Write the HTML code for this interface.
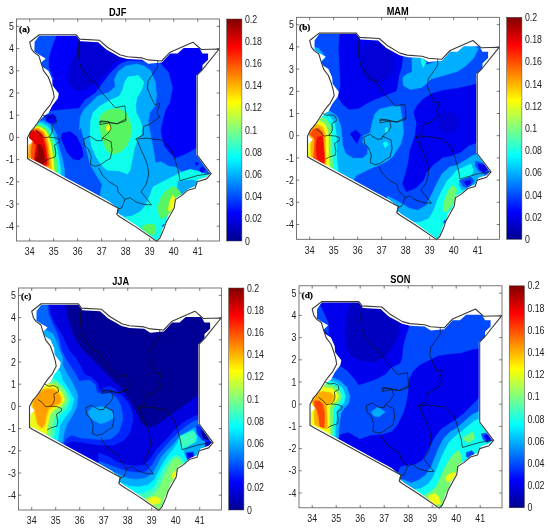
<!DOCTYPE html><html><head><meta charset="utf-8"><title>Seasonal maps</title>
<style>html,body{margin:0;padding:0;background:#fff}svg{display:block;filter:blur(0.42px)}text{font-family:"Liberation Sans",Arial,sans-serif;fill:#222}.t{font-weight:bold;font-size:10.5px;text-anchor:middle;fill:#000}.k{font-size:10px}.g{font-family:"Liberation Serif",serif;font-weight:bold;font-size:9.2px;fill:#000;stroke:#000;stroke-width:0.25px}</style></head><body>
<svg width="550" height="528" viewBox="0 0 550 528">
<defs>
<linearGradient id="jet" x1="0" y1="1" x2="0" y2="0">
<stop offset="0" stop-color="#00008F"/>
<stop offset="0.125" stop-color="#0000FF"/>
<stop offset="0.375" stop-color="#00FFFF"/>
<stop offset="0.625" stop-color="#FFFF00"/>
<stop offset="0.875" stop-color="#FF0000"/>
<stop offset="1" stop-color="#800000"/>
</linearGradient>
<clipPath id="mask"><path d="M18.1 23.1 L22.7 16.8 L59.8 16.8 L63.9 22.2 L81.6 23.3 L89.8 30.6 L103.1 37.9 L111.0 40.0 L125.6 40.8 L131.8 44.8 L145.4 43.5 L153.7 34.5 L161.0 34.5 L167.2 28.9 L182.9 28.9 L186.0 34.5 L191.6 34.5 L191.6 40.8 L186.0 46.0 L186.0 50.6 L179.8 56.4 L179.8 106.0 L179.8 135.8 L193.3 154.5 L190.2 157.7 L181.8 160.8 L178.7 167.0 L171.4 170.2 L165.2 175.4 L160.0 178.5 L157.9 184.8 L155.8 191.0 L151.6 196.2 L149.5 203.5 L146.4 208.7 L143.3 218.1 L140.2 221.6 L137.0 219.1 L119.3 206.0 L104.8 196.8 L101.0 193.5 L101.4 189.3 L92.5 182.3 L85.2 178.3 L76.8 173.6 L64.3 166.8 L51.8 160.0 L41.4 154.3 L24.8 145.1 L15.0 139.9 L11.5 138.9 L12.0 126.1 L13.0 125.6 L16.3 122.3 L12.5 119.0 L13.0 113.3 L19.0 107.3 L24.0 100.6 L28.1 96.2 L31.9 94.3 L35.7 86.8 L41.4 79.2 L42.3 74.4 L36.1 66.5 L35.7 60.2 L31.9 51.7 L26.2 47.9 L24.3 44.1 L29.1 39.4 L22.4 35.6 L17.9 32.8Z"/></clipPath>
<filter id="soft" x="-5%" y="-5%" width="110%" height="110%"><feGaussianBlur stdDeviation="0.45"/></filter>
</defs>
<rect width="550" height="528" fill="#fff"/>
<g transform="translate(16.5 19.0)">
<g clip-path="url(#mask)"><g filter="url(#soft)">
<rect x="-5" y="-5" width="213" height="232" fill="#0000FA"/>
<path d="M63.8 21.4 L52.4 48.9 L51.5 65.0 L60.0 71.6 L69.5 69.7 L80.8 62.1 L90.3 54.6 L97.9 44.1 L105.5 39.4 L111.2 39.4 L90.3 27.1 L84.6 21.4Z" fill="#0000D4" stroke="#0000D4" stroke-width="0.6" stroke-linejoin="round"/>
<path d="M14.3 22.0 L22.7 14.8 L40.4 14.8 L37.2 23.1 L34.1 31.4 L32.0 39.8 L32.0 48.1 L35.2 56.4 L37.2 60.6 L24.8 50.2 L14.3 37.7Z" fill="#0050FF" stroke="#0050FF" stroke-width="0.6" stroke-linejoin="round"/>
<path d="M26.5 93.5 L38.5 91.5 L62.5 89.5 L68.5 81.0 L79.0 74.0 L85.0 66.0 L93.5 54.5 L103.5 45.0 L111.0 42.0 L123.5 42.0 L129.5 43.0 L141.5 42.0 L152.0 53.5 L156.0 69.0 L153.0 84.0 L149.3 90.0 L146.2 100.7 L144.0 111.0 L144.7 116.0 L147.5 127.0 L153.5 134.6 L158.5 139.5 L169.0 135.5 L179.5 129.5 L208.5 121.0 L208.5 231.0 L-6.5 231.0 L-6.5 93.0Z" fill="#0050FF" stroke="#0050FF" stroke-width="0.6" stroke-linejoin="round"/>
<path d="M29.0 97.0 L36.5 95.0 L39.5 98.0 L39.0 103.0 L34.5 104.5 L30.0 102.0Z" fill="#0000FA" stroke="#0000FA" stroke-width="0.6" stroke-linejoin="round"/>
<path d="M45.5 114.5 L53.5 112.5 L60.0 117.5 L65.5 129.0 L66.5 137.0 L62.5 141.0 L56.5 140.0 L50.5 133.0 L47.0 125.0 L44.5 119.0Z" fill="#0000FA" stroke="#0000FA" stroke-width="0.6" stroke-linejoin="round"/>
<path d="M62.9 111.0 L63.8 98.0 L67.5 90.5 L74.2 84.0 L80.8 77.3 L92.2 73.5 L98.8 67.8 L97.9 60.2 L101.7 52.7 L109.3 47.0 L120.5 45.0 L127.5 47.0 L134.1 51.8 L138.8 63.2 L140.0 76.0 L138.7 86.2 L133.3 93.7 L131.8 101.3 L132.6 108.9 L134.1 116.5 L137.1 131.6 L138.7 144.0 L144.2 142.7 L152.7 147.4 L160.3 148.3 L166.0 154.0 L173.5 150.2 L179.3 152.1 L186.8 155.0 L192.5 155.0 L208.5 156.0 L208.5 231.0 L83.5 231.0 L83.5 178.0 L84.5 171.0 L85.8 165.6 L81.0 158.0 L73.7 145.6 L70.6 133.0 L67.5 120.6 L64.3 108.0Z" fill="#00AAFF" stroke="#00AAFF" stroke-width="0.6" stroke-linejoin="round"/>
<path d="M106.1 71.0 L108.3 63.0 L111.5 58.0 L121.8 56.6 L127.4 63.2 L125.0 71.0 L120.5 78.6 L119.0 86.2 L119.7 93.7 L123.5 101.3 L125.8 107.4 L125.0 114.9 L120.5 121.0 L117.4 131.6 L115.9 139.2 L113.7 151.0 L111.0 155.0 L103.1 152.0 L90.2 151.0 L85.6 146.8 L79.6 137.7 L75.0 127.1 L73.5 114.9 L74.3 101.3 L76.5 93.7 L82.6 87.7 L93.2 81.6 L103.0 77.1Z" fill="#0FFFEB" stroke="#0FFFEB" stroke-width="0.6" stroke-linejoin="round"/>
<path d="M87.1 93.5 L93.2 90.3 L103.8 89.8 L109.9 94.5 L112.9 101.3 L115.2 108.9 L113.7 118.0 L109.9 127.0 L103.8 133.1 L96.2 135.4 L90.2 131.6 L86.4 122.5 L84.1 113.4 L82.6 104.3 L84.1 96.8Z" fill="#58F562" stroke="#58F562" stroke-width="0.6" stroke-linejoin="round"/>
<path d="M90.0 107.0 L92.0 105.5 L94.0 107.0 L94.0 111.0 L91.5 112.5 L90.0 111.0Z" fill="#F0FF14" stroke="#F0FF14" stroke-width="0.6" stroke-linejoin="round"/>
<path d="M9.2 106.7 L15.8 105.3 L20.5 101.9 L27.2 101.9 L34.8 106.2 L39.5 114.3 L42.3 127.5 L45.6 138.9 L48.0 151.0 L48.0 157.8 L3.5 157.8 L3.5 106.7Z" fill="#00AAFF" stroke="#00AAFF" stroke-width="0.6" stroke-linejoin="round"/>
<path d="M9.2 108.1 L15.3 106.7 L19.6 103.8 L25.8 104.3 L32.4 108.6 L36.6 116.2 L40.0 127.5 L42.3 138.9 L44.2 151.0 L44.2 157.8 L3.5 157.8 L3.5 108.1Z" fill="#0FFFEB" stroke="#0FFFEB" stroke-width="0.6" stroke-linejoin="round"/>
<path d="M9.2 109.5 L14.9 108.1 L18.7 105.7 L24.3 106.2 L30.5 110.0 L34.6 117.1 L37.4 127.5 L39.5 138.9 L40.9 151.0 L40.9 157.8 L3.5 157.8 L3.5 109.5Z" fill="#58F562" stroke="#58F562" stroke-width="0.6" stroke-linejoin="round"/>
<path d="M9.2 110.9 L13.9 109.5 L17.7 107.6 L23.4 108.1 L28.8 111.4 L32.4 118.0 L34.8 127.5 L36.5 138.9 L37.6 149.8 L37.6 157.8 L3.5 157.8 L3.5 110.9Z" fill="#F0FF14" stroke="#F0FF14" stroke-width="0.6" stroke-linejoin="round"/>
<path d="M9.2 112.4 L13.0 110.9 L17.2 109.0 L22.4 109.5 L27.4 112.8 L30.5 119.0 L32.4 127.5 L34.0 138.9 L34.8 148.3 L34.8 157.8 L3.5 157.8 L3.5 112.4Z" fill="#FFAF00" stroke="#FFAF00" stroke-width="0.6" stroke-linejoin="round"/>
<path d="M12.5 112.4 L16.8 110.5 L22.0 110.9 L26.2 114.3 L28.9 119.9 L30.8 128.5 L32.2 138.9 L32.4 146.5 L28.1 148.3 L21.5 144.6 L14.9 141.2 L14.4 132.2 L15.3 126.6 L16.3 122.3 L12.5 119.0 L9.2 116.2Z" fill="#FF5000" stroke="#FF5000" stroke-width="0.6" stroke-linejoin="round"/>
<path d="M13.0 113.8 L16.3 111.9 L21.0 112.4 L24.8 115.7 L27.2 121.4 L29.1 129.4 L30.5 138.9 L30.5 145.0 L27.2 147.4 L21.5 144.6 L17.7 142.2 L18.7 132.2 L19.6 126.6 L16.3 122.3 L12.5 119.0 L10.1 116.2Z" fill="#E60000" stroke="#E60000" stroke-width="0.6" stroke-linejoin="round"/>
<path d="M22.0 125.1 L24.5 126.1 L26.7 131.3 L27.9 138.9 L28.3 142.7 L25.8 145.5 L22.0 143.8 L18.7 141.5 L20.4 137.0 L21.1 129.4Z" fill="#8C0000" stroke="#8C0000" stroke-width="0.6" stroke-linejoin="round"/>
<path d="M104.7 195.7 L108.5 198.3 L116.1 196.8 L124.4 192.2 L129.7 185.4 L133.5 176.3 L136.5 168.0 L144.9 163.4 L154.0 158.9 L160.0 155.8 L166.1 152.8 L173.7 150.5 L181.2 152.1 L188.5 155.1 L199.4 158.1 L199.4 236.9 L104.7 236.9Z" fill="#0FFFEB" stroke="#0FFFEB" stroke-width="0.6" stroke-linejoin="round"/>
<path d="M161.5 162.4 L175.2 160.8 L180.5 162.4 L184.3 165.7 L173.7 171.0 L169.1 174.8 L164.6 177.1 L160.8 168.7Z" fill="#00AAFF" stroke="#00AAFF" stroke-width="0.6" stroke-linejoin="round"/>
<path d="M142.6 196.0 L141.1 188.4 L144.1 179.3 L149.4 171.8 L157.0 167.2 L162.3 171.0 L164.6 174.8 L160.0 178.6 L158.5 185.4 L154.0 194.5 L147.9 198.3 L144.9 200.5Z" fill="#58F562" stroke="#58F562" stroke-width="0.6" stroke-linejoin="round"/>
<path d="M151.7 191.5 L153.2 182.4 L156.2 176.3 L159.3 180.1 L159.3 185.4 L154.0 192.2Z" fill="#F0FF14" stroke="#F0FF14" stroke-width="0.6" stroke-linejoin="round"/>
<path d="M124.4 208.1 L131.2 205.1 L138.0 205.8 L139.6 211.2 L137.3 216.5 L129.7 213.4Z" fill="#58F562" stroke="#58F562" stroke-width="0.6" stroke-linejoin="round"/>
<path d="M145.6 206.6 L147.6 205.4 L148.8 206.9 L147.1 208.9Z" fill="#0050FF" stroke="#0050FF" stroke-width="0.6" stroke-linejoin="round"/>
<path d="M180.3 142.8 L182.1 144.6 L180.3 146.5 L178.5 144.6Z" fill="#0000FA" stroke="#0000FA" stroke-width="0.6" stroke-linejoin="round"/>
<path d="M185.6 147.7 L188.7 150.7 L185.6 153.7 L182.9 150.7Z" fill="#0000FA" stroke="#0000FA" stroke-width="0.6" stroke-linejoin="round"/>
</g></g>
<path d="M62.5 20.1 L61.9 33.7 L62.9 43.2 L64.8 48.9 L69.5 55.5 L74.2 62.1 L79.9 64.0 L83.7 71.6 L90.3 79.2 L98.8 88.7 L108.3 86.8 L109.3 94.3 L109.3 101.9 L100.7 104.8 L90.3 102.9 L82.7 102.9" fill="none" stroke="#111" stroke-opacity="0.8" stroke-width="0.85" stroke-linejoin="round"/>
<path d="M109.8 99.9 L100.3 104.7 L93.7 103.7 L83.3 105.6 L84.2 101.8 L92.7 102.8 L94.6 109.4 L91.8 114.1 L86.1 118.9 L85.2 121.7 L80.4 121.7 L75.7 118.9 L73.8 117.0 L67.2 119.8 L68.1 126.5 L71.9 130.2 L74.8 137.8 L73.8 145.4 L78.5 147.3 L83.3 146.3 L89.9 141.6 L93.7 139.7 L95.6 131.2 L94.6 122.7 L86.1 118.9" fill="none" stroke="#111" stroke-opacity="0.8" stroke-width="0.85" stroke-linejoin="round"/>
<path d="M82.3 149.2 L84.2 153.0 L86.3 156.6 L92.2 162.5 L100.8 167.6 L101.6 172.8 L108.4 180.4 L106.7 185.5 L105.0 189.0 L101.6 189.8 L100.8 194.9" fill="none" stroke="#111" stroke-opacity="0.8" stroke-width="0.85" stroke-linejoin="round"/>
<path d="M108.4 180.4 L113.6 178.7 L119.5 183.0 L128.0 185.5 L134.9 185.9 L124.6 172.8 L129.8 165.1 L132.3 154.9 L130.6 144.6 L126.3 134.4 L124.6 131.0 L121.0 122.0 L119.3 120.2" fill="none" stroke="#111" stroke-opacity="0.8" stroke-width="0.85" stroke-linejoin="round"/>
<path d="M141.2 41.8 L141.2 48.1 L131.8 61.6 L130.8 68.9 L135.0 79.3 L138.1 85.6 L143.3 84.5 L140.2 93.9 L143.3 98.1 L131.8 106.0" fill="none" stroke="#111" stroke-opacity="0.8" stroke-width="0.85" stroke-linejoin="round"/>
<path d="M132.5 105.6 L126.8 107.5 L126.8 116.0 L119.3 119.8" fill="none" stroke="#111" stroke-opacity="0.8" stroke-width="0.85" stroke-linejoin="round"/>
<path d="M119.3 120.2 L129.8 119.1 L145.4 121.2 L150.5 126.0 L155.3 131.0 L158.7 141.2 L162.1 153.2 L163.5 161.7 L180.8 156.6 L194.3 154.5" fill="none" stroke="#111" stroke-opacity="0.8" stroke-width="0.85" stroke-linejoin="round"/>
<path d="M25.4 95.6 L30.0 98.2 L35.3 97.6 L39.3 99.6 L40.0 103.5 L35.3 106.2 L36.0 111.5 L34.7 115.5 L32.0 118.1 L27.4 118.8 L23.4 114.2 L19.4 111.5" fill="none" stroke="#111" stroke-opacity="0.8" stroke-width="0.85" stroke-linejoin="round"/>
<path d="M32.0 118.1 L39.3 118.8 L43.3 120.8 L42.6 123.4 L38.0 126.1 L39.3 134.1 L38.6 138.0 L32.0 140.0 L28.7 142.0" fill="none" stroke="#111" stroke-opacity="0.8" stroke-width="0.85" stroke-linejoin="round"/>
<path d="M13.2 23.2 L22.6 15.8 L59.8 15.8 L63.1 20.1 L82.8 21.2 L91.2 28.5 L103.4 35.8 L110.9 37.8 L125.5 38.9 L131.8 40.9 L145.2 42.0 L153.6 33.2 L176.4 23.2 L184.8 30.5 L202.6 30.0 L186.0 50.7 L180.7 56.2 L180.7 136.2 L194.6 154.6 L190.1 159.9 L180.7 162.8 L178.6 169.2 L171.4 171.2 L165.1 176.6 L158.9 180.6 L157.7 189.0 L153.6 196.3 L149.5 203.6 L147.4 209.9 L143.3 219.2 L140.2 222.3 L119.3 207.9 L103.2 197.7 L100.3 195.4 L101.8 189.2 L14.2 141.5 L11.0 139.5 L11.0 118.6 L14.2 112.4 L16.8 109.5 L20.4 104.9 L23.5 100.0 L27.1 94.2 L30.0 90.4 L33.8 85.8 L37.7 78.2 L36.7 72.7 L34.8 66.0 L31.9 58.2 L27.1 51.8 L25.2 46.0 L22.3 36.7 L17.8 33.6 L14.9 29.8Z" fill="none" stroke="#3a3a3a" stroke-width="1.1" stroke-linejoin="round"/>
<rect x="0" y="0" width="203" height="222" fill="none" stroke="#555" stroke-width="0.8"/>
<path d="M13.2 222.0 v-2.8 M13.2 0 v2.8 M37.2 222.0 v-2.8 M37.2 0 v2.8 M61.2 222.0 v-2.8 M61.2 0 v2.8 M85.2 222.0 v-2.8 M85.2 0 v2.8 M109.2 222.0 v-2.8 M109.2 0 v2.8 M133.2 222.0 v-2.8 M133.2 0 v2.8 M157.2 222.0 v-2.8 M157.2 0 v2.8 M181.2 222.0 v-2.8 M181.2 0 v2.8 M0 207.2 h2.8 M203.0 207.2 h-2.8 M0 185.0 h2.8 M203.0 185.0 h-2.8 M0 162.8 h2.8 M203.0 162.8 h-2.8 M0 140.6 h2.8 M203.0 140.6 h-2.8 M0 118.4 h2.8 M203.0 118.4 h-2.8 M0 96.2 h2.8 M203.0 96.2 h-2.8 M0 74.0 h2.8 M203.0 74.0 h-2.8 M0 51.8 h2.8 M203.0 51.8 h-2.8 M0 29.6 h2.8 M203.0 29.6 h-2.8 M0 7.4 h2.8 M203.0 7.4 h-2.8" stroke="#444" stroke-width="0.7" fill="none"/>
<text class="k" transform="translate(13.2 236.3) scale(0.88 1)" text-anchor="middle">34</text>
<text class="k" transform="translate(37.2 236.3) scale(0.88 1)" text-anchor="middle">35</text>
<text class="k" transform="translate(61.2 236.3) scale(0.88 1)" text-anchor="middle">36</text>
<text class="k" transform="translate(85.2 236.3) scale(0.88 1)" text-anchor="middle">37</text>
<text class="k" transform="translate(109.2 236.3) scale(0.88 1)" text-anchor="middle">38</text>
<text class="k" transform="translate(133.2 236.3) scale(0.88 1)" text-anchor="middle">39</text>
<text class="k" transform="translate(157.2 236.3) scale(0.88 1)" text-anchor="middle">40</text>
<text class="k" transform="translate(181.2 236.3) scale(0.88 1)" text-anchor="middle">41</text>
<text class="k" transform="translate(-2.6 210.8) scale(0.88 1)" text-anchor="end">-4</text>
<text class="k" transform="translate(-2.6 188.6) scale(0.88 1)" text-anchor="end">-3</text>
<text class="k" transform="translate(-2.6 166.4) scale(0.88 1)" text-anchor="end">-2</text>
<text class="k" transform="translate(-2.6 144.2) scale(0.88 1)" text-anchor="end">-1</text>
<text class="k" transform="translate(-2.6 122.0) scale(0.88 1)" text-anchor="end">0</text>
<text class="k" transform="translate(-2.6 99.8) scale(0.88 1)" text-anchor="end">1</text>
<text class="k" transform="translate(-2.6 77.6) scale(0.88 1)" text-anchor="end">2</text>
<text class="k" transform="translate(-2.6 55.4) scale(0.88 1)" text-anchor="end">3</text>
<text class="k" transform="translate(-2.6 33.2) scale(0.88 1)" text-anchor="end">4</text>
<text class="k" transform="translate(-2.6 11.0) scale(0.88 1)" text-anchor="end">5</text>
<text class="g" x="2.6" y="12.9">(a)</text>
<rect x="210.2" y="0" width="15.2" height="222" fill="url(#jet)" stroke="#444" stroke-width="0.5"/>
<text class="k" transform="translate(228.4 225.6) scale(0.88 1)">0</text>
<text class="k" transform="translate(228.4 203.4) scale(0.88 1)">0.02</text>
<text class="k" transform="translate(228.4 181.2) scale(0.88 1)">0.04</text>
<text class="k" transform="translate(228.4 159.0) scale(0.88 1)">0.06</text>
<text class="k" transform="translate(228.4 136.8) scale(0.88 1)">0.08</text>
<text class="k" transform="translate(228.4 114.6) scale(0.88 1)">0.1</text>
<text class="k" transform="translate(228.4 92.4) scale(0.88 1)">0.12</text>
<text class="k" transform="translate(228.4 70.2) scale(0.88 1)">0.14</text>
<text class="k" transform="translate(228.4 48.0) scale(0.88 1)">0.16</text>
<text class="k" transform="translate(228.4 25.8) scale(0.88 1)">0.18</text>
<text class="k" transform="translate(228.4 3.6) scale(0.88 1)">0.2</text>
</g>
<text class="t" transform="translate(117.6 15.8) scale(0.88 1)">DJF</text>
<g transform="translate(296.5 17.3)">
<g clip-path="url(#mask)"><g filter="url(#soft)">
<rect x="-5" y="-5" width="213" height="232" fill="#004BFF"/>
<path d="M44.2 7.7 L42.3 30.4 L43.3 49.4 L44.2 68.3 L41.8 79.7 L46.1 86.7 L52.7 92.0 L62.2 91.0 L69.8 86.2 L79.3 81.6 L86.8 78.7 L94.4 75.7 L99.5 73.7 L100.5 70.2 L102.3 58.7 L105.1 49.4 L106.1 39.9 L101.5 32.3 L97.5 22.7 L95.5 7.7Z" fill="#0000F0" stroke="#0000F0" stroke-width="0.6" stroke-linejoin="round"/>
<path d="M66.0 30.4 L75.5 24.7 L88.7 26.6 L96.3 36.1 L97.2 49.4 L92.5 60.7 L83.0 66.4 L71.7 64.5 L65.1 55.0 L63.2 41.8Z" fill="#0000D7" stroke="#0000D7" stroke-width="0.6" stroke-linejoin="round"/>
<path d="M187.5 64.5 L174.3 68.3 L161.0 71.1 L147.7 73.0 L136.4 75.9 L126.9 81.6 L120.8 88.2 L117.4 94.7 L120.3 106.1 L118.4 119.4 L113.7 132.6 L111.8 145.9 L108.9 157.2 L106.1 166.7 L109.9 174.3 L119.3 170.5 L126.9 162.9 L129.8 155.4 L136.4 147.8 L145.8 140.2 L155.3 138.3 L164.8 134.5 L172.4 127.9 L187.5 123.2Z" fill="#0000F0" stroke="#0000F0" stroke-width="0.6" stroke-linejoin="round"/>
<path d="M141.1 102.3 L145.8 95.7 L155.3 94.7 L161.9 100.4 L161.9 109.0 L155.3 115.6 L146.8 114.6 L142.1 109.0Z" fill="#0000D7" stroke="#0000D7" stroke-width="0.6" stroke-linejoin="round"/>
<path d="M115.5 40.8 L124.1 39.0 L126.9 48.4 L142.1 43.7 L149.6 37.1 L155.3 34.2 L164.8 29.5 L176.2 27.6 L181.8 31.4 L177.1 40.8 L169.5 48.4 L161.0 54.1 L147.7 57.9 L134.5 61.7 L129.8 66.4 L125.0 70.2 L113.7 72.1 L107.0 68.3 L106.1 60.7 L109.9 56.9 L115.5 55.0Z" fill="#00AFFF" stroke="#00AFFF" stroke-width="0.6" stroke-linejoin="round"/>
<path d="M124.1 39.5 L129.8 44.6 L126.9 50.3 L125.0 45.6Z" fill="#0AFFF0" stroke="#0AFFF0" stroke-width="0.6" stroke-linejoin="round"/>
<path d="M14.9 28.5 L22.4 31.4 L29.1 39.9 L24.3 45.6 L19.6 38.0Z" fill="#00AFFF" stroke="#00AFFF" stroke-width="0.6" stroke-linejoin="round"/>
<path d="M103.5 88.7 L106.1 104.2 L107.0 115.6 L104.2 126.9 L99.5 134.2 L96.3 139.1 L90.6 143.8 L83.0 147.6 L75.5 150.4 L67.9 154.2 L60.3 158.0 L53.5 166.7 L3.5 166.7 L3.5 93.7 L20.5 92.7 L31.9 92.7 L41.0 99.5 L44.4 109.7 L45.5 121.1 L46.1 127.7 L49.0 136.2 L56.5 141.0 L66.0 141.0 L70.7 137.2 L71.7 129.7 L66.0 125.0 L66.9 118.4 L73.6 115.6 L75.5 106.1 L78.3 96.6 L83.0 92.0 L94.4 89.1Z" fill="#00AFFF" stroke="#00AFFF" stroke-width="0.6" stroke-linejoin="round"/>
<path d="M53.7 116.5 L59.4 112.7 L64.1 117.5 L60.3 126.0Z" fill="#0000F0" stroke="#0000F0" stroke-width="0.6" stroke-linejoin="round"/>
<path d="M88.7 110.8 L91.0 110.3 L91.8 114.6 L89.1 115.2Z" fill="#0AFFF0" stroke="#0AFFF0" stroke-width="0.6" stroke-linejoin="round"/>
<path d="M86.5 126.0 L89.7 124.1 L91.8 127.3 L88.7 130.4Z" fill="#0AFFF0" stroke="#0AFFF0" stroke-width="0.6" stroke-linejoin="round"/>
<path d="M3.5 97.2 L17.1 97.2 L25.1 96.1 L33.0 98.4 L38.2 106.3 L39.9 117.7 L39.9 132.5 L40.4 143.8 L41.6 152.7 L41.6 160.9 L3.5 160.9Z" fill="#0AFFF0" stroke="#0AFFF0" stroke-width="0.6" stroke-linejoin="round"/>
<path d="M3.5 100.7 L16.6 100.7 L24.0 99.5 L30.2 102.4 L34.2 108.6 L35.3 118.8 L35.3 132.5 L35.9 143.8 L37.0 152.7 L37.0 160.9 L3.5 160.9Z" fill="#6EFA6E" stroke="#6EFA6E" stroke-width="0.6" stroke-linejoin="round"/>
<path d="M3.5 104.1 L15.4 104.1 L22.8 103.5 L27.9 106.3 L30.8 112.0 L31.9 120.0 L31.9 132.5 L32.5 143.8 L33.0 150.7 L33.0 160.9 L3.5 160.9Z" fill="#F0FF14" stroke="#F0FF14" stroke-width="0.6" stroke-linejoin="round"/>
<path d="M14.9 108.0 L21.7 107.5 L26.2 109.7 L28.5 115.4 L29.1 122.2 L29.1 132.5 L29.4 142.7 L29.6 148.4 L20.5 145.0 L14.9 142.7 L14.3 130.2 L14.9 123.4 L13.2 118.8 L8.0 115.4 L8.0 108.0Z" fill="#FFAF00" stroke="#FFAF00" stroke-width="0.6" stroke-linejoin="round"/>
<path d="M13.7 116.6 L16.6 112.0 L22.2 110.9 L25.9 114.9 L27.0 121.1 L27.4 132.5 L28.2 143.8 L27.9 147.2 L24.0 145.5 L17.1 141.6 L17.7 131.3 L18.3 123.4 L17.1 120.0 L10.3 115.4Z" fill="#FF4B00" stroke="#FF4B00" stroke-width="0.6" stroke-linejoin="round"/>
<path d="M20.5 120.0 L25.7 118.8 L26.8 126.8 L27.7 135.9 L27.7 145.0 L24.0 145.0 L20.5 141.0 L19.6 131.3Z" fill="#F00F00" stroke="#F00F00" stroke-width="0.6" stroke-linejoin="round"/>
<path d="M90.9 178.8 L98.5 182.6 L106.1 186.8 L112.7 191.1 L121.2 193.0 L129.8 188.3 L134.5 178.8 L139.2 168.4 L145.8 156.1 L153.4 149.5 L161.0 147.6 L170.5 141.9 L176.2 138.1 L187.5 135.3 L187.5 241.3 L90.9 241.3Z" fill="#00AFFF" stroke="#00AFFF" stroke-width="0.6" stroke-linejoin="round"/>
<path d="M106.1 200.6 L115.5 205.7 L124.1 204.8 L132.6 201.2 L137.3 193.0 L141.1 182.6 L145.8 172.2 L150.6 163.7 L155.3 158.9 L160.1 153.3 L174.3 146.6 L177.1 153.3 L174.3 158.9 L162.9 162.7 L161.9 167.5 L164.8 173.2 L187.5 173.2 L187.5 241.3 L98.5 241.3Z" fill="#0AFFF0" stroke="#0AFFF0" stroke-width="0.6" stroke-linejoin="round"/>
<path d="M146.8 190.2 L148.7 180.7 L152.5 172.2 L156.3 167.5 L160.1 172.2 L159.1 180.7 L155.3 188.3 L150.6 194.0 L147.4 194.0Z" fill="#6EFA6E" stroke="#6EFA6E" stroke-width="0.6" stroke-linejoin="round"/>
<path d="M162.9 163.3 L174.3 159.5 L177.7 163.7 L172.4 170.9 L166.7 169.0Z" fill="#004BFF" stroke="#004BFF" stroke-width="0.6" stroke-linejoin="round"/>
<path d="M167.6 164.6 L173.3 162.7 L174.3 165.6 L170.5 168.4Z" fill="#0000F0" stroke="#0000F0" stroke-width="0.6" stroke-linejoin="round"/>
<path d="M179.0 143.8 L187.5 146.3 L193.2 152.3 L187.5 156.5 L181.8 153.3 L179.0 148.5Z" fill="#004BFF" stroke="#004BFF" stroke-width="0.6" stroke-linejoin="round"/>
<path d="M181.8 146.6 L187.5 147.6 L191.3 151.9 L187.1 155.2 L182.8 151.9Z" fill="#0000F0" stroke="#0000F0" stroke-width="0.6" stroke-linejoin="round"/>
<path d="M146.8 204.4 L148.7 202.5 L150.0 205.0 L148.1 207.2Z" fill="#004BFF" stroke="#004BFF" stroke-width="0.6" stroke-linejoin="round"/>
</g></g>
<path d="M62.5 20.1 L61.9 33.7 L62.9 43.2 L64.8 48.9 L69.5 55.5 L74.2 62.1 L79.9 64.0 L83.7 71.6 L90.3 79.2 L98.8 88.7 L108.3 86.8 L109.3 94.3 L109.3 101.9 L100.7 104.8 L90.3 102.9 L82.7 102.9" fill="none" stroke="#111" stroke-opacity="0.8" stroke-width="0.85" stroke-linejoin="round"/>
<path d="M109.8 99.9 L100.3 104.7 L93.7 103.7 L83.3 105.6 L84.2 101.8 L92.7 102.8 L94.6 109.4 L91.8 114.1 L86.1 118.9 L85.2 121.7 L80.4 121.7 L75.7 118.9 L73.8 117.0 L67.2 119.8 L68.1 126.5 L71.9 130.2 L74.8 137.8 L73.8 145.4 L78.5 147.3 L83.3 146.3 L89.9 141.6 L93.7 139.7 L95.6 131.2 L94.6 122.7 L86.1 118.9" fill="none" stroke="#111" stroke-opacity="0.8" stroke-width="0.85" stroke-linejoin="round"/>
<path d="M82.3 149.2 L84.2 153.0 L86.3 156.6 L92.2 162.5 L100.8 167.6 L101.6 172.8 L108.4 180.4 L106.7 185.5 L105.0 189.0 L101.6 189.8 L100.8 194.9" fill="none" stroke="#111" stroke-opacity="0.8" stroke-width="0.85" stroke-linejoin="round"/>
<path d="M108.4 180.4 L113.6 178.7 L119.5 183.0 L128.0 185.5 L134.9 185.9 L124.6 172.8 L129.8 165.1 L132.3 154.9 L130.6 144.6 L126.3 134.4 L124.6 131.0 L121.0 122.0 L119.3 120.2" fill="none" stroke="#111" stroke-opacity="0.8" stroke-width="0.85" stroke-linejoin="round"/>
<path d="M141.2 41.8 L141.2 48.1 L131.8 61.6 L130.8 68.9 L135.0 79.3 L138.1 85.6 L143.3 84.5 L140.2 93.9 L143.3 98.1 L131.8 106.0" fill="none" stroke="#111" stroke-opacity="0.8" stroke-width="0.85" stroke-linejoin="round"/>
<path d="M132.5 105.6 L126.8 107.5 L126.8 116.0 L119.3 119.8" fill="none" stroke="#111" stroke-opacity="0.8" stroke-width="0.85" stroke-linejoin="round"/>
<path d="M119.3 120.2 L129.8 119.1 L145.4 121.2 L150.5 126.0 L155.3 131.0 L158.7 141.2 L162.1 153.2 L163.5 161.7 L180.8 156.6 L194.3 154.5" fill="none" stroke="#111" stroke-opacity="0.8" stroke-width="0.85" stroke-linejoin="round"/>
<path d="M25.4 95.6 L30.0 98.2 L35.3 97.6 L39.3 99.6 L40.0 103.5 L35.3 106.2 L36.0 111.5 L34.7 115.5 L32.0 118.1 L27.4 118.8 L23.4 114.2 L19.4 111.5" fill="none" stroke="#111" stroke-opacity="0.8" stroke-width="0.85" stroke-linejoin="round"/>
<path d="M32.0 118.1 L39.3 118.8 L43.3 120.8 L42.6 123.4 L38.0 126.1 L39.3 134.1 L38.6 138.0 L32.0 140.0 L28.7 142.0" fill="none" stroke="#111" stroke-opacity="0.8" stroke-width="0.85" stroke-linejoin="round"/>
<path d="M13.2 23.2 L22.6 15.8 L59.8 15.8 L63.1 20.1 L82.8 21.2 L91.2 28.5 L103.4 35.8 L110.9 37.8 L125.5 38.9 L131.8 40.9 L145.2 42.0 L153.6 33.2 L176.4 23.2 L184.8 30.5 L202.6 30.0 L186.0 50.7 L180.7 56.2 L180.7 136.2 L194.6 154.6 L190.1 159.9 L180.7 162.8 L178.6 169.2 L171.4 171.2 L165.1 176.6 L158.9 180.6 L157.7 189.0 L153.6 196.3 L149.5 203.6 L147.4 209.9 L143.3 219.2 L140.2 222.3 L119.3 207.9 L103.2 197.7 L100.3 195.4 L101.8 189.2 L14.2 141.5 L11.0 139.5 L11.0 118.6 L14.2 112.4 L16.8 109.5 L20.4 104.9 L23.5 100.0 L27.1 94.2 L30.0 90.4 L33.8 85.8 L37.7 78.2 L36.7 72.7 L34.8 66.0 L31.9 58.2 L27.1 51.8 L25.2 46.0 L22.3 36.7 L17.8 33.6 L14.9 29.8Z" fill="none" stroke="#3a3a3a" stroke-width="1.1" stroke-linejoin="round"/>
<rect x="0" y="0" width="203" height="222" fill="none" stroke="#555" stroke-width="0.8"/>
<path d="M13.2 222.0 v-2.8 M13.2 0 v2.8 M37.2 222.0 v-2.8 M37.2 0 v2.8 M61.2 222.0 v-2.8 M61.2 0 v2.8 M85.2 222.0 v-2.8 M85.2 0 v2.8 M109.2 222.0 v-2.8 M109.2 0 v2.8 M133.2 222.0 v-2.8 M133.2 0 v2.8 M157.2 222.0 v-2.8 M157.2 0 v2.8 M181.2 222.0 v-2.8 M181.2 0 v2.8 M0 207.2 h2.8 M203.0 207.2 h-2.8 M0 185.0 h2.8 M203.0 185.0 h-2.8 M0 162.8 h2.8 M203.0 162.8 h-2.8 M0 140.6 h2.8 M203.0 140.6 h-2.8 M0 118.4 h2.8 M203.0 118.4 h-2.8 M0 96.2 h2.8 M203.0 96.2 h-2.8 M0 74.0 h2.8 M203.0 74.0 h-2.8 M0 51.8 h2.8 M203.0 51.8 h-2.8 M0 29.6 h2.8 M203.0 29.6 h-2.8 M0 7.4 h2.8 M203.0 7.4 h-2.8" stroke="#444" stroke-width="0.7" fill="none"/>
<text class="k" transform="translate(13.2 236.3) scale(0.88 1)" text-anchor="middle">34</text>
<text class="k" transform="translate(37.2 236.3) scale(0.88 1)" text-anchor="middle">35</text>
<text class="k" transform="translate(61.2 236.3) scale(0.88 1)" text-anchor="middle">36</text>
<text class="k" transform="translate(85.2 236.3) scale(0.88 1)" text-anchor="middle">37</text>
<text class="k" transform="translate(109.2 236.3) scale(0.88 1)" text-anchor="middle">38</text>
<text class="k" transform="translate(133.2 236.3) scale(0.88 1)" text-anchor="middle">39</text>
<text class="k" transform="translate(157.2 236.3) scale(0.88 1)" text-anchor="middle">40</text>
<text class="k" transform="translate(181.2 236.3) scale(0.88 1)" text-anchor="middle">41</text>
<text class="k" transform="translate(-2.6 210.8) scale(0.88 1)" text-anchor="end">-4</text>
<text class="k" transform="translate(-2.6 188.6) scale(0.88 1)" text-anchor="end">-3</text>
<text class="k" transform="translate(-2.6 166.4) scale(0.88 1)" text-anchor="end">-2</text>
<text class="k" transform="translate(-2.6 144.2) scale(0.88 1)" text-anchor="end">-1</text>
<text class="k" transform="translate(-2.6 122.0) scale(0.88 1)" text-anchor="end">0</text>
<text class="k" transform="translate(-2.6 99.8) scale(0.88 1)" text-anchor="end">1</text>
<text class="k" transform="translate(-2.6 77.6) scale(0.88 1)" text-anchor="end">2</text>
<text class="k" transform="translate(-2.6 55.4) scale(0.88 1)" text-anchor="end">3</text>
<text class="k" transform="translate(-2.6 33.2) scale(0.88 1)" text-anchor="end">4</text>
<text class="k" transform="translate(-2.6 11.0) scale(0.88 1)" text-anchor="end">5</text>
<text class="g" x="2.6" y="12.7">(b)</text>
<rect x="210.2" y="0" width="15.2" height="222" fill="url(#jet)" stroke="#444" stroke-width="0.5"/>
<text class="k" transform="translate(228.4 225.6) scale(0.88 1)">0</text>
<text class="k" transform="translate(228.4 203.4) scale(0.88 1)">0.02</text>
<text class="k" transform="translate(228.4 181.2) scale(0.88 1)">0.04</text>
<text class="k" transform="translate(228.4 159.0) scale(0.88 1)">0.06</text>
<text class="k" transform="translate(228.4 136.8) scale(0.88 1)">0.08</text>
<text class="k" transform="translate(228.4 114.6) scale(0.88 1)">0.1</text>
<text class="k" transform="translate(228.4 92.4) scale(0.88 1)">0.12</text>
<text class="k" transform="translate(228.4 70.2) scale(0.88 1)">0.14</text>
<text class="k" transform="translate(228.4 48.0) scale(0.88 1)">0.16</text>
<text class="k" transform="translate(228.4 25.8) scale(0.88 1)">0.18</text>
<text class="k" transform="translate(228.4 3.6) scale(0.88 1)">0.2</text>
</g>
<text class="t" transform="translate(397.7 14.5) scale(0.88 1)">MAM</text>
<g transform="translate(18.5 288.0)">
<g clip-path="url(#mask)"><g filter="url(#soft)">
<rect x="-5" y="-5" width="213" height="232" fill="#0000E1"/>
<path d="M47.9 2.0 L47.9 16.5 L48.8 26.0 L51.5 36.0 L54.5 45.0 L59.0 54.0 L64.5 62.0 L72.5 69.6 L80.5 78.0 L88.5 86.0 L95.5 93.0 L100.5 97.0 L105.4 103.5 L111.5 112.6 L118.0 124.0 L123.7 135.7 L132.2 139.5 L140.7 134.8 L150.2 128.1 L159.7 121.5 L171.0 113.0 L180.5 105.4 L211.5 97.0 L211.5 2.0Z" fill="#000096" stroke="#000096" stroke-width="0.6" stroke-linejoin="round"/>
<path d="M30.5 2.0 L30.5 16.0 L31.8 26.0 L36.5 36.0 L42.2 45.0 L46.5 54.0 L50.3 62.0 L57.9 71.0 L62.4 78.7 L65.5 86.2 L73.0 89.3 L79.1 95.3 L80.6 103.0 L85.1 100.0 L91.2 98.4 L97.3 101.4 L101.5 106.0 L103.9 108.0 L110.0 115.6 L113.8 124.7 L114.5 132.0 L111.5 144.0 L105.5 152.0 L95.5 157.0 L81.5 157.0 L66.5 155.0 L53.5 153.0 L45.5 157.0 L-8.5 152.0 L-8.5 2.0Z" fill="#0028FF" stroke="#0028FF" stroke-width="0.6" stroke-linejoin="round"/>
<path d="M28.5 2.0 L28.5 16.0 L30.0 26.0 L34.0 36.0 L38.5 45.0 L41.0 54.0 L42.7 62.0 L47.3 71.0 L53.3 80.2 L57.9 87.8 L60.9 93.8 L65.5 92.3 L71.5 92.3 L76.8 96.8 L78.3 104.4 L79.7 105.0 L84.2 105.5 L91.8 105.0 L97.9 109.6 L102.1 117.0 L104.0 127.0 L104.0 132.8 L100.2 144.2 L92.6 150.8 L83.2 151.8 L71.8 150.8 L62.3 149.9 L52.9 147.0 L47.2 150.8 L43.5 158.0 L-8.5 152.0 L-8.5 2.0Z" fill="#0066FF" stroke="#0066FF" stroke-width="0.6" stroke-linejoin="round"/>
<path d="M-8.5 37.0 L25.5 41.0 L29.5 43.0 L34.5 46.0 L38.5 55.0 L41.0 62.0 L44.2 69.6 L44.2 77.2 L47.5 84.0 L52.5 92.3 L56.5 100.0 L59.4 107.5 L58.3 118.7 L53.6 128.1 L48.8 135.7 L46.0 143.3 L44.1 154.0 L-8.5 154.0Z" fill="#00AFFF" stroke="#00AFFF" stroke-width="0.6" stroke-linejoin="round"/>
<path d="M69.9 123.4 L74.6 119.6 L86.0 118.6 L93.6 123.4 L95.5 129.0 L90.7 132.8 L82.2 135.7 L74.6 131.9 L70.9 128.1Z" fill="#00AFFF" stroke="#00AFFF" stroke-width="0.6" stroke-linejoin="round"/>
<path d="M-8.5 72.0 L33.5 75.0 L37.0 78.0 L41.5 84.0 L44.2 92.3 L49.5 100.0 L53.3 107.5 L55.5 111.0 L52.6 121.5 L46.0 130.0 L41.3 137.6 L39.4 152.0 L-8.5 152.0Z" fill="#00F5FF" stroke="#00F5FF" stroke-width="0.6" stroke-linejoin="round"/>
<path d="M-8.5 86.0 L29.9 89.0 L37.0 91.5 L44.5 98.0 L50.3 107.5 L51.7 112.0 L47.9 121.5 L41.3 127.2 L37.5 135.7 L35.6 150.0 L-8.5 150.0Z" fill="#3CFFBE" stroke="#3CFFBE" stroke-width="0.6" stroke-linejoin="round"/>
<path d="M-8.5 95.0 L22.3 95.0 L37.5 94.0 L47.0 103.5 L48.8 113.0 L44.1 120.6 L38.4 124.3 L34.6 131.9 L32.8 139.5 L31.8 148.0 L-8.5 148.0Z" fill="#7DFF73" stroke="#7DFF73" stroke-width="0.6" stroke-linejoin="round"/>
<path d="M-8.5 103.5 L17.6 103.5 L25.2 95.9 L36.5 96.9 L44.1 105.4 L46.0 112.0 L42.2 117.7 L35.6 121.5 L31.8 126.2 L29.9 133.8 L28.0 146.0 L-8.5 146.0Z" fill="#EBFA19" stroke="#EBFA19" stroke-width="0.6" stroke-linejoin="round"/>
<path d="M19.5 106.5 L26.1 101.8 L34.6 101.6 L39.0 104.5 L42.2 110.1 L41.3 114.9 L34.6 117.7 L29.9 120.6 L27.1 128.1 L26.1 135.7 L23.3 139.5 L19.5 135.7 L17.6 126.2 L14.8 117.7 L15.7 111.1Z" fill="#FFCD00" stroke="#FFCD00" stroke-width="3" stroke-linejoin="round"/>
<path d="M19.5 106.5 L26.1 101.8 L34.6 101.6 L39.0 104.5 L42.2 110.1 L41.3 114.9 L34.6 117.7 L29.9 120.6 L27.1 128.1 L26.1 135.7 L23.3 139.5 L19.5 135.7 L17.6 126.2 L14.8 117.7 L15.7 111.1Z" fill="#FFA000" stroke="#FFA000" stroke-width="0.6" stroke-linejoin="round"/>
<path d="M80.1 164.9 L91.5 169.6 L99.1 174.3 L108.5 177.2 L118.0 178.1 L125.6 177.2 L132.2 170.6 L137.0 163.0 L143.6 155.4 L150.2 148.8 L155.9 142.2 L163.5 135.5 L171.0 130.8 L186.2 124.2 L186.2 240.6 L80.1 240.6Z" fill="#0028FF" stroke="#0028FF" stroke-width="0.6" stroke-linejoin="round"/>
<path d="M80.1 173.4 L91.5 177.2 L101.0 181.0 L110.4 183.8 L119.9 184.8 L127.5 183.8 L134.1 176.2 L138.8 167.7 L145.5 160.1 L152.1 152.6 L158.7 145.9 L166.3 139.3 L174.8 133.6 L186.2 129.8 L186.2 240.6 L80.1 240.6Z" fill="#0066FF" stroke="#0066FF" stroke-width="0.6" stroke-linejoin="round"/>
<path d="M87.7 181.9 L99.1 185.7 L108.5 190.4 L118.0 191.4 L126.5 190.4 L134.1 185.7 L138.8 177.2 L142.6 169.6 L148.3 163.0 L154.0 157.3 L159.7 150.7 L167.3 145.0 L174.8 140.3 L186.2 138.4 L186.2 240.6 L87.7 240.6Z" fill="#00AFFF" stroke="#00AFFF" stroke-width="0.6" stroke-linejoin="round"/>
<path d="M91.5 191.4 L102.9 195.2 L110.4 198.0 L119.9 199.0 L129.4 197.1 L136.0 191.4 L140.7 181.9 L145.5 173.4 L150.2 166.8 L154.9 161.1 L158.7 155.4 L161.6 147.8 L174.8 142.2 L178.6 147.8 L177.7 153.5 L171.0 157.3 L164.4 162.0 L166.3 167.7 L171.0 176.2 L171.0 240.6 L91.5 240.6Z" fill="#00F5FF" stroke="#00F5FF" stroke-width="0.6" stroke-linejoin="round"/>
<path d="M110.4 206.5 L118.0 206.5 L125.6 204.7 L134.1 200.9 L138.8 193.3 L142.6 184.8 L147.4 176.2 L153.1 169.6 L157.8 166.8 L162.5 169.6 L167.3 176.2 L167.3 240.6 L110.4 240.6Z" fill="#3CFFBE" stroke="#3CFFBE" stroke-width="0.6" stroke-linejoin="round"/>
<path d="M161.6 148.8 L174.8 143.1 L177.7 148.8 L175.8 154.5 L163.5 160.1Z" fill="#3CFFBE" stroke="#3CFFBE" stroke-width="0.6" stroke-linejoin="round"/>
<path d="M119.9 214.1 L126.5 210.3 L135.1 206.5 L140.7 199.9 L144.5 191.4 L148.3 182.9 L154.0 172.5 L158.7 169.6 L162.5 174.3 L163.5 240.6 L119.9 240.6Z" fill="#7DFF73" stroke="#7DFF73" stroke-width="0.6" stroke-linejoin="round"/>
<path d="M129.4 211.3 L136.0 208.4 L141.7 210.3 L141.7 215.1 L134.1 216.4 L130.3 214.5Z" fill="#EBFA19" stroke="#EBFA19" stroke-width="0.6" stroke-linejoin="round"/>
<path d="M153.1 188.6 L154.9 183.8 L157.8 183.4 L157.4 187.6 L154.9 191.4Z" fill="#EBFA19" stroke="#EBFA19" stroke-width="0.6" stroke-linejoin="round"/>
<path d="M167.3 164.9 L174.8 163.9 L175.8 169.6 L169.2 172.1Z" fill="#0028FF" stroke="#0028FF" stroke-width="0.6" stroke-linejoin="round"/>
<path d="M169.2 165.8 L173.9 165.3 L174.3 169.0 L170.1 170.6Z" fill="#0000E1" stroke="#0000E1" stroke-width="0.6" stroke-linejoin="round"/>
<path d="M177.7 137.4 L181.5 138.4 L191.5 145.9 L191.5 153.5 L184.3 152.6 L178.6 145.9Z" fill="#0028FF" stroke="#0028FF" stroke-width="0.6" stroke-linejoin="round"/>
<path d="M182.4 142.2 L190.0 146.9 L190.0 151.6 L185.2 150.7Z" fill="#000096" stroke="#000096" stroke-width="0.6" stroke-linejoin="round"/>
</g></g>
<path d="M62.5 20.1 L61.9 33.7 L62.9 43.2 L64.8 48.9 L69.5 55.5 L74.2 62.1 L79.9 64.0 L83.7 71.6 L90.3 79.2 L98.8 88.7 L108.3 86.8 L109.3 94.3 L109.3 101.9 L100.7 104.8 L90.3 102.9 L82.7 102.9" fill="none" stroke="#111" stroke-opacity="0.8" stroke-width="0.85" stroke-linejoin="round"/>
<path d="M109.8 99.9 L100.3 104.7 L93.7 103.7 L83.3 105.6 L84.2 101.8 L92.7 102.8 L94.6 109.4 L91.8 114.1 L86.1 118.9 L85.2 121.7 L80.4 121.7 L75.7 118.9 L73.8 117.0 L67.2 119.8 L68.1 126.5 L71.9 130.2 L74.8 137.8 L73.8 145.4 L78.5 147.3 L83.3 146.3 L89.9 141.6 L93.7 139.7 L95.6 131.2 L94.6 122.7 L86.1 118.9" fill="none" stroke="#111" stroke-opacity="0.8" stroke-width="0.85" stroke-linejoin="round"/>
<path d="M82.3 149.2 L84.2 153.0 L86.3 156.6 L92.2 162.5 L100.8 167.6 L101.6 172.8 L108.4 180.4 L106.7 185.5 L105.0 189.0 L101.6 189.8 L100.8 194.9" fill="none" stroke="#111" stroke-opacity="0.8" stroke-width="0.85" stroke-linejoin="round"/>
<path d="M108.4 180.4 L113.6 178.7 L119.5 183.0 L128.0 185.5 L134.9 185.9 L124.6 172.8 L129.8 165.1 L132.3 154.9 L130.6 144.6 L126.3 134.4 L124.6 131.0 L121.0 122.0 L119.3 120.2" fill="none" stroke="#111" stroke-opacity="0.8" stroke-width="0.85" stroke-linejoin="round"/>
<path d="M141.2 41.8 L141.2 48.1 L131.8 61.6 L130.8 68.9 L135.0 79.3 L138.1 85.6 L143.3 84.5 L140.2 93.9 L143.3 98.1 L131.8 106.0" fill="none" stroke="#111" stroke-opacity="0.8" stroke-width="0.85" stroke-linejoin="round"/>
<path d="M132.5 105.6 L126.8 107.5 L126.8 116.0 L119.3 119.8" fill="none" stroke="#111" stroke-opacity="0.8" stroke-width="0.85" stroke-linejoin="round"/>
<path d="M119.3 120.2 L129.8 119.1 L145.4 121.2 L150.5 126.0 L155.3 131.0 L158.7 141.2 L162.1 153.2 L163.5 161.7 L180.8 156.6 L194.3 154.5" fill="none" stroke="#111" stroke-opacity="0.8" stroke-width="0.85" stroke-linejoin="round"/>
<path d="M25.4 95.6 L30.0 98.2 L35.3 97.6 L39.3 99.6 L40.0 103.5 L35.3 106.2 L36.0 111.5 L34.7 115.5 L32.0 118.1 L27.4 118.8 L23.4 114.2 L19.4 111.5" fill="none" stroke="#111" stroke-opacity="0.8" stroke-width="0.85" stroke-linejoin="round"/>
<path d="M32.0 118.1 L39.3 118.8 L43.3 120.8 L42.6 123.4 L38.0 126.1 L39.3 134.1 L38.6 138.0 L32.0 140.0 L28.7 142.0" fill="none" stroke="#111" stroke-opacity="0.8" stroke-width="0.85" stroke-linejoin="round"/>
<path d="M13.2 23.2 L22.6 15.8 L59.8 15.8 L63.1 20.1 L82.8 21.2 L91.2 28.5 L103.4 35.8 L110.9 37.8 L125.5 38.9 L131.8 40.9 L145.2 42.0 L153.6 33.2 L176.4 23.2 L184.8 30.5 L202.6 30.0 L186.0 50.7 L180.7 56.2 L180.7 136.2 L194.6 154.6 L190.1 159.9 L180.7 162.8 L178.6 169.2 L171.4 171.2 L165.1 176.6 L158.9 180.6 L157.7 189.0 L153.6 196.3 L149.5 203.6 L147.4 209.9 L143.3 219.2 L140.2 222.3 L119.3 207.9 L103.2 197.7 L100.3 195.4 L101.8 189.2 L14.2 141.5 L11.0 139.5 L11.0 118.6 L14.2 112.4 L16.8 109.5 L20.4 104.9 L23.5 100.0 L27.1 94.2 L30.0 90.4 L33.8 85.8 L37.7 78.2 L36.7 72.7 L34.8 66.0 L31.9 58.2 L27.1 51.8 L25.2 46.0 L22.3 36.7 L17.8 33.6 L14.9 29.8Z" fill="none" stroke="#3a3a3a" stroke-width="1.1" stroke-linejoin="round"/>
<rect x="0" y="0" width="203" height="222" fill="none" stroke="#555" stroke-width="0.8"/>
<path d="M13.2 222.0 v-2.8 M13.2 0 v2.8 M37.2 222.0 v-2.8 M37.2 0 v2.8 M61.2 222.0 v-2.8 M61.2 0 v2.8 M85.2 222.0 v-2.8 M85.2 0 v2.8 M109.2 222.0 v-2.8 M109.2 0 v2.8 M133.2 222.0 v-2.8 M133.2 0 v2.8 M157.2 222.0 v-2.8 M157.2 0 v2.8 M181.2 222.0 v-2.8 M181.2 0 v2.8 M0 207.2 h2.8 M203.0 207.2 h-2.8 M0 185.0 h2.8 M203.0 185.0 h-2.8 M0 162.8 h2.8 M203.0 162.8 h-2.8 M0 140.6 h2.8 M203.0 140.6 h-2.8 M0 118.4 h2.8 M203.0 118.4 h-2.8 M0 96.2 h2.8 M203.0 96.2 h-2.8 M0 74.0 h2.8 M203.0 74.0 h-2.8 M0 51.8 h2.8 M203.0 51.8 h-2.8 M0 29.6 h2.8 M203.0 29.6 h-2.8 M0 7.4 h2.8 M203.0 7.4 h-2.8" stroke="#444" stroke-width="0.7" fill="none"/>
<text class="k" transform="translate(13.2 236.3) scale(0.88 1)" text-anchor="middle">34</text>
<text class="k" transform="translate(37.2 236.3) scale(0.88 1)" text-anchor="middle">35</text>
<text class="k" transform="translate(61.2 236.3) scale(0.88 1)" text-anchor="middle">36</text>
<text class="k" transform="translate(85.2 236.3) scale(0.88 1)" text-anchor="middle">37</text>
<text class="k" transform="translate(109.2 236.3) scale(0.88 1)" text-anchor="middle">38</text>
<text class="k" transform="translate(133.2 236.3) scale(0.88 1)" text-anchor="middle">39</text>
<text class="k" transform="translate(157.2 236.3) scale(0.88 1)" text-anchor="middle">40</text>
<text class="k" transform="translate(181.2 236.3) scale(0.88 1)" text-anchor="middle">41</text>
<text class="k" transform="translate(-2.6 210.8) scale(0.88 1)" text-anchor="end">-4</text>
<text class="k" transform="translate(-2.6 188.6) scale(0.88 1)" text-anchor="end">-3</text>
<text class="k" transform="translate(-2.6 166.4) scale(0.88 1)" text-anchor="end">-2</text>
<text class="k" transform="translate(-2.6 144.2) scale(0.88 1)" text-anchor="end">-1</text>
<text class="k" transform="translate(-2.6 122.0) scale(0.88 1)" text-anchor="end">0</text>
<text class="k" transform="translate(-2.6 99.8) scale(0.88 1)" text-anchor="end">1</text>
<text class="k" transform="translate(-2.6 77.6) scale(0.88 1)" text-anchor="end">2</text>
<text class="k" transform="translate(-2.6 55.4) scale(0.88 1)" text-anchor="end">3</text>
<text class="k" transform="translate(-2.6 33.2) scale(0.88 1)" text-anchor="end">4</text>
<text class="k" transform="translate(-2.6 11.0) scale(0.88 1)" text-anchor="end">5</text>
<text class="g" x="2.6" y="11.2">(c)</text>
<rect x="210.2" y="0" width="15.2" height="222" fill="url(#jet)" stroke="#444" stroke-width="0.5"/>
<text class="k" transform="translate(228.4 225.6) scale(0.88 1)">0</text>
<text class="k" transform="translate(228.4 203.4) scale(0.88 1)">0.02</text>
<text class="k" transform="translate(228.4 181.2) scale(0.88 1)">0.04</text>
<text class="k" transform="translate(228.4 159.0) scale(0.88 1)">0.06</text>
<text class="k" transform="translate(228.4 136.8) scale(0.88 1)">0.08</text>
<text class="k" transform="translate(228.4 114.6) scale(0.88 1)">0.1</text>
<text class="k" transform="translate(228.4 92.4) scale(0.88 1)">0.12</text>
<text class="k" transform="translate(228.4 70.2) scale(0.88 1)">0.14</text>
<text class="k" transform="translate(228.4 48.0) scale(0.88 1)">0.16</text>
<text class="k" transform="translate(228.4 25.8) scale(0.88 1)">0.18</text>
<text class="k" transform="translate(228.4 3.6) scale(0.88 1)">0.2</text>
</g>
<text class="t" transform="translate(120.6 285.1) scale(0.88 1)">JJA</text>
<g transform="translate(299.0 285.8)">
<g clip-path="url(#mask)"><g filter="url(#soft)">
<rect x="-5" y="-5" width="213" height="232" fill="#0048FF"/>
<path d="M1.0 79.0 L39.8 79.0 L48.3 84.7 L55.9 93.2 L59.7 98.9 L66.3 97.0 L76.8 93.2 L86.2 88.5 L91.9 81.9 L101.0 77.1 L102.9 72.2 L103.8 61.0 L106.7 49.7 L111.4 37.3 L111.4 -5.8 L1.0 -5.8Z" fill="#0000EE" stroke="#0000EE" stroke-width="0.6" stroke-linejoin="round"/>
<path d="M14.3 15.6 L19.9 17.5 L24.7 26.9 L29.4 38.3 L29.4 48.7 L24.7 43.0 L19.0 32.6 L14.3 26.9Z" fill="#0048FF" stroke="#0048FF" stroke-width="0.6" stroke-linejoin="round"/>
<path d="M52.1 15.6 L47.4 32.6 L46.5 47.8 L48.3 62.9 L53.1 70.5 L63.5 75.2 L76.8 76.2 L86.2 70.5 L93.8 61.0 L99.5 47.8 L101.4 32.6 L101.4 15.6Z" fill="#0000C3" stroke="#0000C3" stroke-width="0.6" stroke-linejoin="round"/>
<path d="M201.0 62.0 L179.6 62.9 L171.1 64.8 L161.6 67.6 L150.2 68.6 L138.9 70.5 L129.4 75.2 L119.9 80.0 L114.3 85.6 L110.5 93.2 L109.5 106.4 L107.6 117.8 L104.8 127.2 L101.0 134.8 L98.7 139.4 L93.0 146.0 L83.5 148.8 L72.1 149.8 L60.8 153.6 L49.4 146.9 L41.8 148.8 L34.0 154.2 L36.0 161.2 L96.0 192.2 L101.0 181.0 L106.7 179.1 L116.2 178.2 L122.8 174.4 L126.6 167.8 L131.3 159.2 L136.0 150.7 L141.7 143.1 L150.2 137.5 L157.8 132.7 L165.4 126.7 L172.0 119.7 L176.8 114.9 L180.5 111.1 L201.0 106.2Z" fill="#0000EE" stroke="#0000EE" stroke-width="0.6" stroke-linejoin="round"/>
<path d="M72.0 126.3 L78.7 121.5 L86.2 126.3 L79.6 131.0 L74.9 130.1Z" fill="#00ACFF" stroke="#00ACFF" stroke-width="0.6" stroke-linejoin="round"/>
<path d="M1.0 92.7 L27.7 92.7 L34.0 92.2 L40.8 95.0 L47.6 101.2 L51.0 110.9 L49.3 118.3 L44.8 122.8 L41.9 127.4 L40.8 135.3 L39.6 144.2 L39.6 152.4 L1.0 152.4Z" fill="#00ACFF" stroke="#00ACFF" stroke-width="0.6" stroke-linejoin="round"/>
<path d="M1.0 95.6 L25.4 95.6 L30.5 95.0 L37.4 97.3 L43.6 102.4 L46.5 110.9 L44.8 117.2 L40.8 120.6 L37.9 125.1 L37.4 133.1 L36.2 142.2 L36.2 152.4 L1.0 152.4Z" fill="#0AFCF2" stroke="#0AFCF2" stroke-width="0.6" stroke-linejoin="round"/>
<path d="M1.0 99.0 L22.0 99.0 L27.7 97.8 L35.1 100.1 L40.2 104.7 L43.0 110.9 L40.8 116.0 L36.2 119.4 L34.0 124.0 L34.0 133.1 L33.4 142.2 L33.4 152.4 L1.0 152.4Z" fill="#73FA73" stroke="#73FA73" stroke-width="0.6" stroke-linejoin="round"/>
<path d="M1.0 103.5 L18.0 103.5 L25.4 101.2 L33.4 102.9 L37.9 106.9 L39.6 110.9 L37.4 114.9 L32.2 118.9 L30.5 122.8 L30.8 131.9 L30.8 141.0 L30.8 152.4 L1.0 152.4Z" fill="#F0FF14" stroke="#F0FF14" stroke-width="0.6" stroke-linejoin="round"/>
<path d="M18.0 107.5 L23.7 105.8 L31.7 106.9 L35.1 110.1 L34.0 114.9 L29.4 117.7 L27.4 120.6 L27.9 129.7 L28.3 137.6 L27.7 143.3 L20.3 141.0 L15.8 138.7 L15.2 129.7 L15.8 122.8 L14.6 118.3 L12.4 116.0 L12.4 111.5Z" fill="#FFAC00" stroke="#FFAC00" stroke-width="0.6" stroke-linejoin="round"/>
<path d="M15.2 115.4 L19.8 114.9 L23.7 118.3 L25.4 126.2 L25.4 135.3 L24.9 142.2 L20.9 140.4 L19.8 131.9 L18.0 124.0 L15.2 119.4Z" fill="#FF4600" stroke="#FF4600" stroke-width="0.6" stroke-linejoin="round"/>
<path d="M97.2 192.4 L104.8 194.3 L112.4 197.1 L119.9 194.3 L126.6 189.5 L132.2 181.0 L136.0 171.5 L139.8 162.1 L144.6 152.6 L151.2 146.0 L157.8 142.2 L165.4 135.6 L173.0 128.9 L178.7 126.1 L184.3 122.3 L214.6 122.3 L214.6 237.8 L97.2 237.8Z" fill="#00ACFF" stroke="#00ACFF" stroke-width="0.6" stroke-linejoin="round"/>
<path d="M114.3 203.7 L121.8 202.8 L129.4 198.1 L134.1 191.4 L137.9 182.9 L141.7 173.4 L145.5 164.9 L150.2 156.4 L155.9 150.7 L163.5 145.0 L171.1 138.4 L177.7 133.7 L181.5 134.6 L214.6 134.6 L214.6 237.8 L114.3 237.8Z" fill="#0AFCF2" stroke="#0AFCF2" stroke-width="0.6" stroke-linejoin="round"/>
<path d="M125.6 209.4 L132.2 205.6 L137.9 200.0 L141.7 191.4 L145.5 182.9 L150.2 174.4 L155.0 167.8 L159.7 164.9 L162.6 170.6 L161.6 179.1 L166.3 181.0 L166.3 237.8 L125.6 237.8Z" fill="#73FA73" stroke="#73FA73" stroke-width="0.6" stroke-linejoin="round"/>
<path d="M163.5 152.6 L173.9 146.0 L175.8 152.6 L169.2 157.3Z" fill="#73FA73" stroke="#73FA73" stroke-width="0.6" stroke-linejoin="round"/>
<path d="M129.4 210.4 L136.0 207.5 L139.8 211.3 L141.7 217.9 L136.0 218.9 L131.3 215.1Z" fill="#F0FF14" stroke="#F0FF14" stroke-width="0.6" stroke-linejoin="round"/>
<path d="M146.5 191.4 L151.2 187.6 L155.9 186.7 L155.9 190.5 L151.2 195.2 L148.3 196.2Z" fill="#F0FF14" stroke="#F0FF14" stroke-width="0.6" stroke-linejoin="round"/>
<path d="M167.3 166.8 L173.0 164.9 L175.8 168.7 L171.1 172.5 L167.3 170.6Z" fill="#0048FF" stroke="#0048FF" stroke-width="0.6" stroke-linejoin="round"/>
<path d="M182.4 147.9 L190.0 146.9 L194.8 153.6 L188.1 156.8 L184.0 153.6Z" fill="#0048FF" stroke="#0048FF" stroke-width="0.6" stroke-linejoin="round"/>
<path d="M185.3 149.8 L189.6 149.2 L192.3 153.0 L188.1 155.1Z" fill="#0000EE" stroke="#0000EE" stroke-width="0.6" stroke-linejoin="round"/>
</g></g>
<path d="M62.5 20.1 L61.9 33.7 L62.9 43.2 L64.8 48.9 L69.5 55.5 L74.2 62.1 L79.9 64.0 L83.7 71.6 L90.3 79.2 L98.8 88.7 L108.3 86.8 L109.3 94.3 L109.3 101.9 L100.7 104.8 L90.3 102.9 L82.7 102.9" fill="none" stroke="#111" stroke-opacity="0.8" stroke-width="0.85" stroke-linejoin="round"/>
<path d="M109.8 99.9 L100.3 104.7 L93.7 103.7 L83.3 105.6 L84.2 101.8 L92.7 102.8 L94.6 109.4 L91.8 114.1 L86.1 118.9 L85.2 121.7 L80.4 121.7 L75.7 118.9 L73.8 117.0 L67.2 119.8 L68.1 126.5 L71.9 130.2 L74.8 137.8 L73.8 145.4 L78.5 147.3 L83.3 146.3 L89.9 141.6 L93.7 139.7 L95.6 131.2 L94.6 122.7 L86.1 118.9" fill="none" stroke="#111" stroke-opacity="0.8" stroke-width="0.85" stroke-linejoin="round"/>
<path d="M82.3 149.2 L84.2 153.0 L86.3 156.6 L92.2 162.5 L100.8 167.6 L101.6 172.8 L108.4 180.4 L106.7 185.5 L105.0 189.0 L101.6 189.8 L100.8 194.9" fill="none" stroke="#111" stroke-opacity="0.8" stroke-width="0.85" stroke-linejoin="round"/>
<path d="M108.4 180.4 L113.6 178.7 L119.5 183.0 L128.0 185.5 L134.9 185.9 L124.6 172.8 L129.8 165.1 L132.3 154.9 L130.6 144.6 L126.3 134.4 L124.6 131.0 L121.0 122.0 L119.3 120.2" fill="none" stroke="#111" stroke-opacity="0.8" stroke-width="0.85" stroke-linejoin="round"/>
<path d="M141.2 41.8 L141.2 48.1 L131.8 61.6 L130.8 68.9 L135.0 79.3 L138.1 85.6 L143.3 84.5 L140.2 93.9 L143.3 98.1 L131.8 106.0" fill="none" stroke="#111" stroke-opacity="0.8" stroke-width="0.85" stroke-linejoin="round"/>
<path d="M132.5 105.6 L126.8 107.5 L126.8 116.0 L119.3 119.8" fill="none" stroke="#111" stroke-opacity="0.8" stroke-width="0.85" stroke-linejoin="round"/>
<path d="M119.3 120.2 L129.8 119.1 L145.4 121.2 L150.5 126.0 L155.3 131.0 L158.7 141.2 L162.1 153.2 L163.5 161.7 L180.8 156.6 L194.3 154.5" fill="none" stroke="#111" stroke-opacity="0.8" stroke-width="0.85" stroke-linejoin="round"/>
<path d="M25.4 95.6 L30.0 98.2 L35.3 97.6 L39.3 99.6 L40.0 103.5 L35.3 106.2 L36.0 111.5 L34.7 115.5 L32.0 118.1 L27.4 118.8 L23.4 114.2 L19.4 111.5" fill="none" stroke="#111" stroke-opacity="0.8" stroke-width="0.85" stroke-linejoin="round"/>
<path d="M32.0 118.1 L39.3 118.8 L43.3 120.8 L42.6 123.4 L38.0 126.1 L39.3 134.1 L38.6 138.0 L32.0 140.0 L28.7 142.0" fill="none" stroke="#111" stroke-opacity="0.8" stroke-width="0.85" stroke-linejoin="round"/>
<path d="M13.2 23.2 L22.6 15.8 L59.8 15.8 L63.1 20.1 L82.8 21.2 L91.2 28.5 L103.4 35.8 L110.9 37.8 L125.5 38.9 L131.8 40.9 L145.2 42.0 L153.6 33.2 L176.4 23.2 L184.8 30.5 L202.6 30.0 L186.0 50.7 L180.7 56.2 L180.7 136.2 L194.6 154.6 L190.1 159.9 L180.7 162.8 L178.6 169.2 L171.4 171.2 L165.1 176.6 L158.9 180.6 L157.7 189.0 L153.6 196.3 L149.5 203.6 L147.4 209.9 L143.3 219.2 L140.2 222.3 L119.3 207.9 L103.2 197.7 L100.3 195.4 L101.8 189.2 L14.2 141.5 L11.0 139.5 L11.0 118.6 L14.2 112.4 L16.8 109.5 L20.4 104.9 L23.5 100.0 L27.1 94.2 L30.0 90.4 L33.8 85.8 L37.7 78.2 L36.7 72.7 L34.8 66.0 L31.9 58.2 L27.1 51.8 L25.2 46.0 L22.3 36.7 L17.8 33.6 L14.9 29.8Z" fill="none" stroke="#3a3a3a" stroke-width="1.1" stroke-linejoin="round"/>
<rect x="0" y="0" width="203" height="222" fill="none" stroke="#555" stroke-width="0.8"/>
<path d="M13.2 222.0 v-2.8 M13.2 0 v2.8 M37.2 222.0 v-2.8 M37.2 0 v2.8 M61.2 222.0 v-2.8 M61.2 0 v2.8 M85.2 222.0 v-2.8 M85.2 0 v2.8 M109.2 222.0 v-2.8 M109.2 0 v2.8 M133.2 222.0 v-2.8 M133.2 0 v2.8 M157.2 222.0 v-2.8 M157.2 0 v2.8 M181.2 222.0 v-2.8 M181.2 0 v2.8 M0 207.2 h2.8 M203.0 207.2 h-2.8 M0 185.0 h2.8 M203.0 185.0 h-2.8 M0 162.8 h2.8 M203.0 162.8 h-2.8 M0 140.6 h2.8 M203.0 140.6 h-2.8 M0 118.4 h2.8 M203.0 118.4 h-2.8 M0 96.2 h2.8 M203.0 96.2 h-2.8 M0 74.0 h2.8 M203.0 74.0 h-2.8 M0 51.8 h2.8 M203.0 51.8 h-2.8 M0 29.6 h2.8 M203.0 29.6 h-2.8 M0 7.4 h2.8 M203.0 7.4 h-2.8" stroke="#444" stroke-width="0.7" fill="none"/>
<text class="k" transform="translate(13.2 236.3) scale(0.88 1)" text-anchor="middle">34</text>
<text class="k" transform="translate(37.2 236.3) scale(0.88 1)" text-anchor="middle">35</text>
<text class="k" transform="translate(61.2 236.3) scale(0.88 1)" text-anchor="middle">36</text>
<text class="k" transform="translate(85.2 236.3) scale(0.88 1)" text-anchor="middle">37</text>
<text class="k" transform="translate(109.2 236.3) scale(0.88 1)" text-anchor="middle">38</text>
<text class="k" transform="translate(133.2 236.3) scale(0.88 1)" text-anchor="middle">39</text>
<text class="k" transform="translate(157.2 236.3) scale(0.88 1)" text-anchor="middle">40</text>
<text class="k" transform="translate(181.2 236.3) scale(0.88 1)" text-anchor="middle">41</text>
<text class="k" transform="translate(-2.6 210.8) scale(0.88 1)" text-anchor="end">-4</text>
<text class="k" transform="translate(-2.6 188.6) scale(0.88 1)" text-anchor="end">-3</text>
<text class="k" transform="translate(-2.6 166.4) scale(0.88 1)" text-anchor="end">-2</text>
<text class="k" transform="translate(-2.6 144.2) scale(0.88 1)" text-anchor="end">-1</text>
<text class="k" transform="translate(-2.6 122.0) scale(0.88 1)" text-anchor="end">0</text>
<text class="k" transform="translate(-2.6 99.8) scale(0.88 1)" text-anchor="end">1</text>
<text class="k" transform="translate(-2.6 77.6) scale(0.88 1)" text-anchor="end">2</text>
<text class="k" transform="translate(-2.6 55.4) scale(0.88 1)" text-anchor="end">3</text>
<text class="k" transform="translate(-2.6 33.2) scale(0.88 1)" text-anchor="end">4</text>
<text class="k" transform="translate(-2.6 11.0) scale(0.88 1)" text-anchor="end">5</text>
<text class="g" x="2.6" y="12.0">(d)</text>
<rect x="210.2" y="0" width="15.2" height="222" fill="url(#jet)" stroke="#444" stroke-width="0.5"/>
<text class="k" transform="translate(228.4 225.6) scale(0.88 1)">0</text>
<text class="k" transform="translate(228.4 203.4) scale(0.88 1)">0.02</text>
<text class="k" transform="translate(228.4 181.2) scale(0.88 1)">0.04</text>
<text class="k" transform="translate(228.4 159.0) scale(0.88 1)">0.06</text>
<text class="k" transform="translate(228.4 136.8) scale(0.88 1)">0.08</text>
<text class="k" transform="translate(228.4 114.6) scale(0.88 1)">0.1</text>
<text class="k" transform="translate(228.4 92.4) scale(0.88 1)">0.12</text>
<text class="k" transform="translate(228.4 70.2) scale(0.88 1)">0.14</text>
<text class="k" transform="translate(228.4 48.0) scale(0.88 1)">0.16</text>
<text class="k" transform="translate(228.4 25.8) scale(0.88 1)">0.18</text>
<text class="k" transform="translate(228.4 3.6) scale(0.88 1)">0.2</text>
</g>
<text class="t" transform="translate(400.3 283.1) scale(0.88 1)">SON</text>
</svg></body></html>
